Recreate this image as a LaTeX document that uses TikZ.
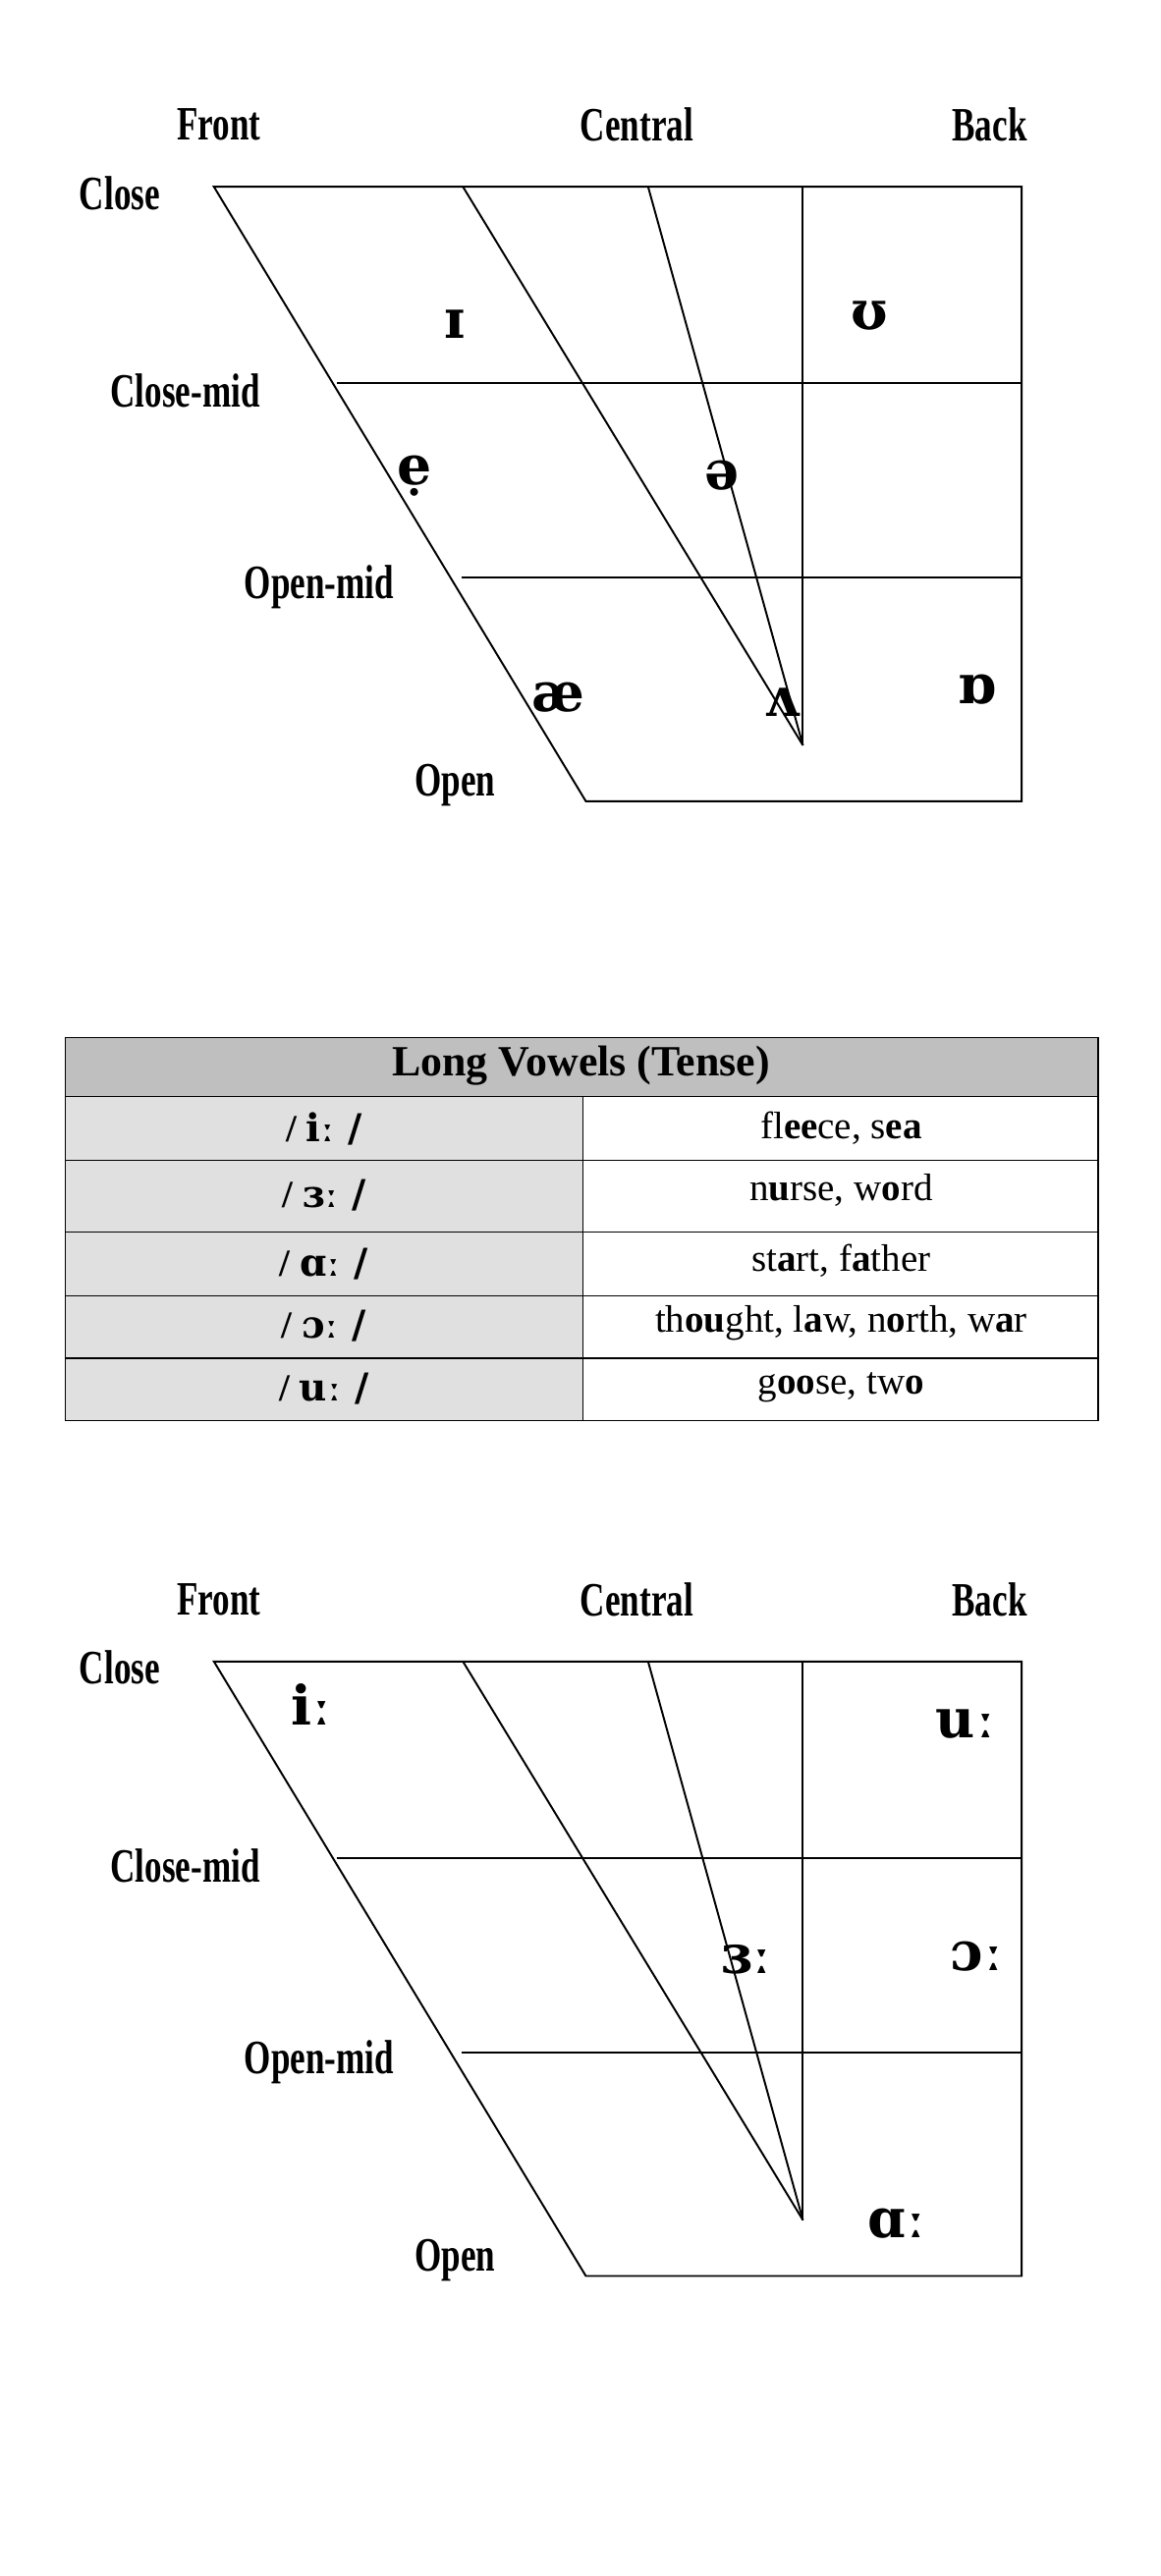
\documentclass[tikz,border=0pt]{standalone}
\usepackage{fontspec}
\setmainfont{Liberation Serif}
\newfontfamily\ipafont{DejaVu Serif}
\begin{document}
\begin{tikzpicture}[x=1pt,y=-1pt,
  lab/.style={font=\fontsize{30}{32}\selectfont\bfseries, xscale=0.72},
  vow/.style={font=\fontsize{34}{36}\ipafont\bfseries},
  cell/.style={font=\fontsize{24}{26}\selectfont},
  ln/.style={line width=1.2pt}]
\useasboundingbox (0,0) rectangle (727,1614);
\foreach \dy/\nm in {0/A,924/B}{
\begin{scope}[yshift=-\dy]
\draw[ln] (134,117) -- (640,117) -- (640,502) -- (367,502) -- cycle;
\draw[ln] (211,240) -- (640,240);
\draw[ln] (289,362) -- (640,362);
\draw[ln] (503,117) -- (503,467);
\draw[ln] (290,117) -- (503,467);
\draw[ln] (406,117) -- (503,467);
\node[lab] (\nm f) at (137,78) {Front};
\node[lab] (\nm c) at (399,78) {Central};
\node[lab] (\nm b) at (620,78) {Back};
\node[lab] (\nm cl) at (75,121) {Close};
\node[lab] (\nm cm) at (116,245) {Close-mid};
\node[lab] (\nm om) at (200,368) {Open-mid};
\node[lab] (\nm o) at (285,492) {Open};
\end{scope}}
\node[vow] (v1) at (285,203) {ɪ};
\node[vow] (v2) at (545,198) {ʊ};
\node[vow] (v3) at (260,298) {ẹ};
\node[vow] (v4) at (452,298) {ə};
\node[vow] (v5) at (350,437) {æ};
\node[vow] (v6) at (490,440) {ʌ};
\node[vow] (v7) at (612,432) {ɒ};
\node[vow] (w1) at (195,1068) {iː};
\node[vow] (w2) at (605,1080) {uː};
\node[vow] (w3) at (468,1228) {ɜː};
\node[vow] (w4) at (612,1226) {ɔː};
\node[vow] (w5) at (562,1393) {ɑː};
% table
\fill[black!25] (41,650) rectangle (688,687);
\fill[black!12] (41,687) rectangle (365,890);
\draw[line width=0.8pt] (41,650) rectangle (688,890);
\foreach \y in {687,727,772,812,851} \draw[line width=0.8pt] (41,\y) -- (688,\y);
\draw[line width=0.8pt] (365,687) -- (365,890);
\node[font=\fontsize{27}{29}\selectfont\bfseries] (th) at (364,668) {Long Vowels (Tense)};
\node[cell] (l1) at (203,707) {\bfseries / \ipafont iː /};
\node[cell] (l2) at (203,749) {\bfseries / \ipafont ɜː /};
\node[cell] (l3) at (203,792) {\bfseries / \ipafont ɑː /};
\node[cell] (l4) at (203,831) {\bfseries / \ipafont ɔː /};
\node[cell] (l5) at (203,870) {\bfseries / \ipafont uː /};
\node[cell] (r1) at (527,707) {fl\textbf{ee}ce, s\textbf{ea}};
\node[cell] (r2) at (527,746) {n\textbf{u}rse, w\textbf{o}rd};
\node[cell] (r3) at (527,790) {st\textbf{a}rt, f\textbf{a}ther};
\node[cell] (r4) at (527,829) {th\textbf{ou}ght, l\textbf{a}w, n\textbf{o}rth, w\textbf{a}r};
\node[cell] (r5) at (527,869) {g\textbf{oo}se, tw\textbf{o}};
\end{tikzpicture}
\end{document}
